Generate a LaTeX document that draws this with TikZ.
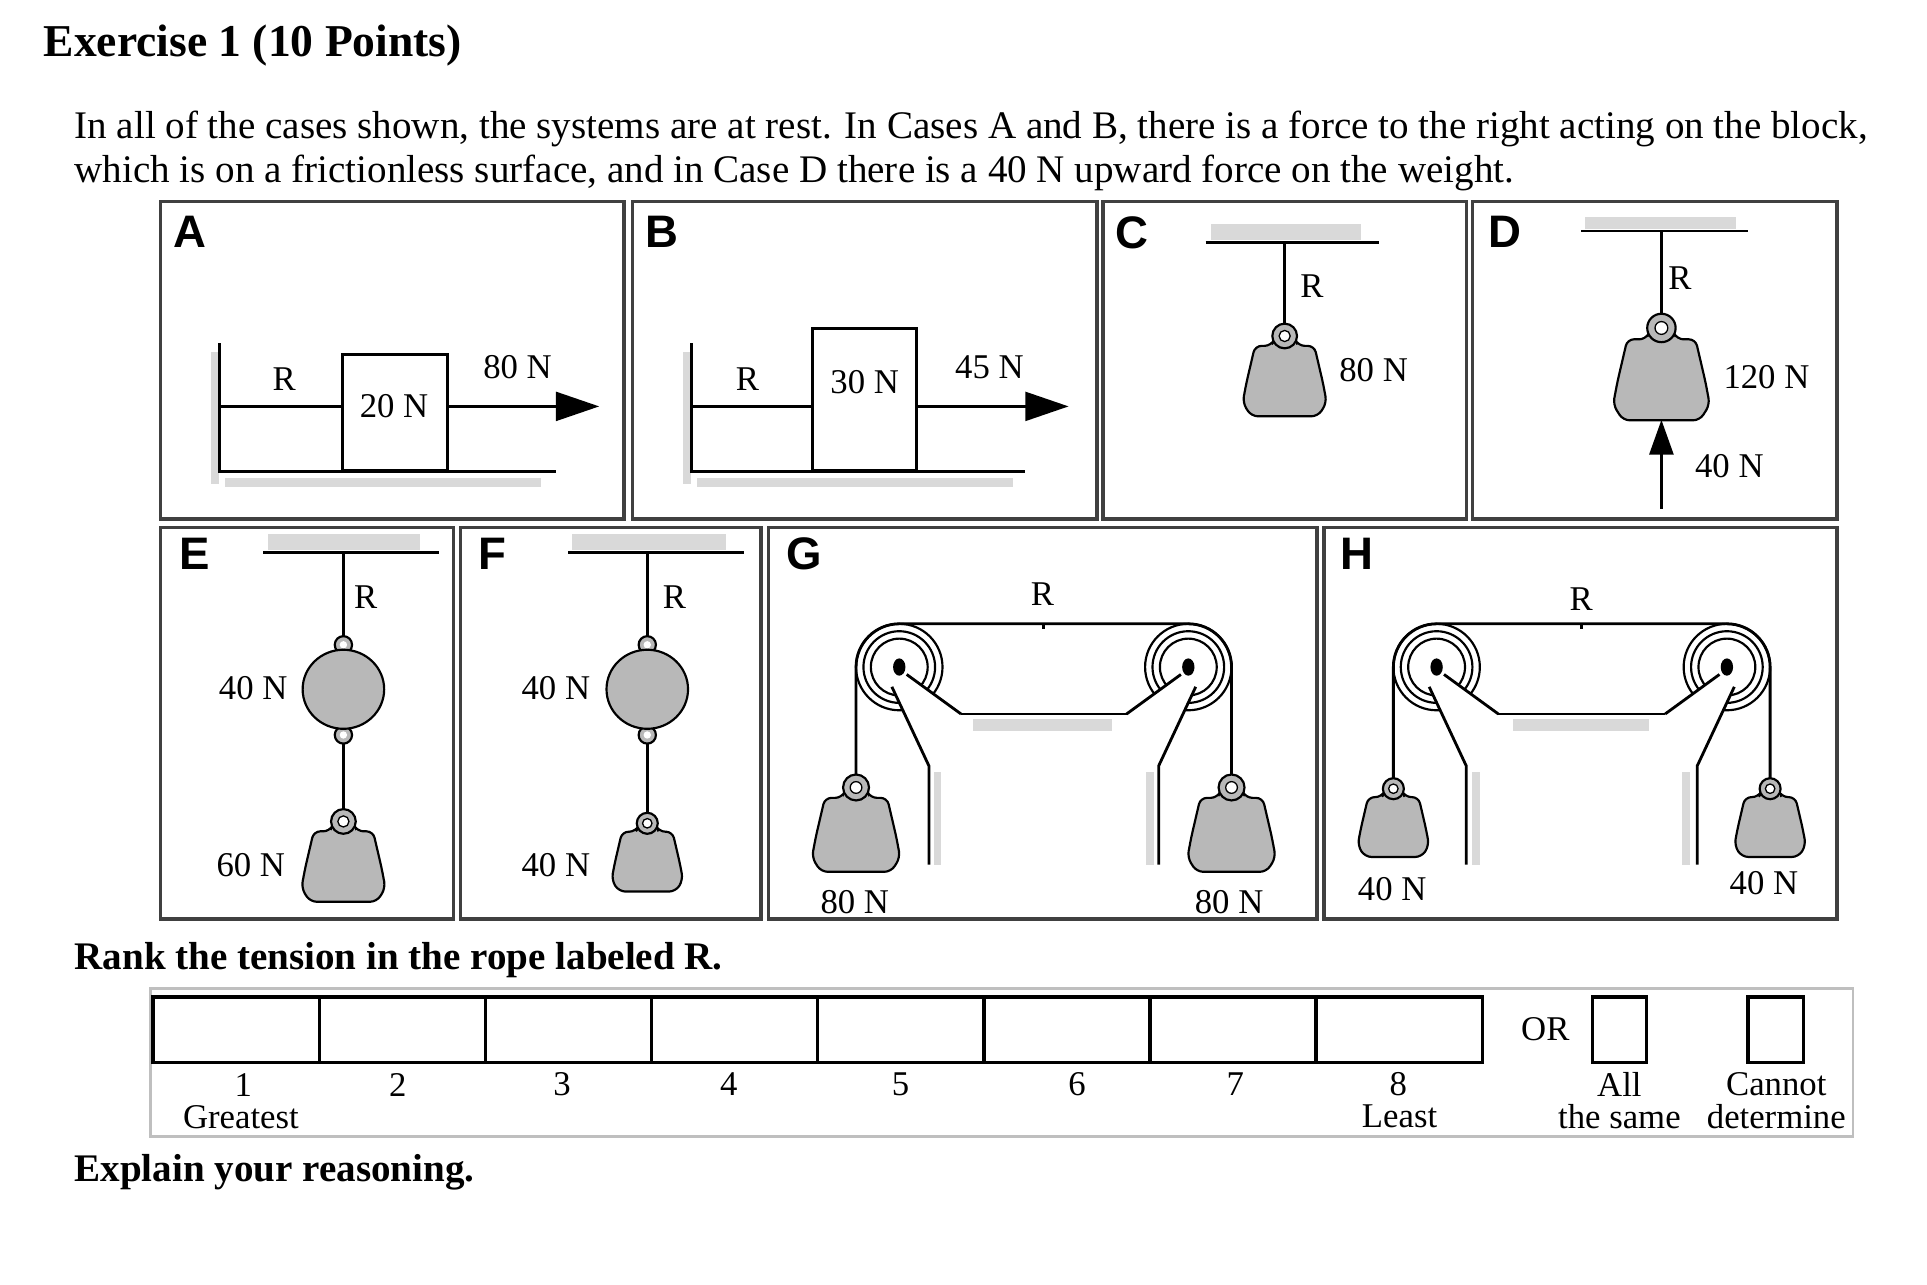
\documentclass[tikz,border=0pt]{standalone}
\usepackage{fontspec}
\setmainfont{Liberation Serif}
\newfontfamily\sansb{Liberation Sans}[BoldFont={* Bold}]
\begin{document}
\begin{tikzpicture}[x=0.02cm,y=-0.02cm,
  panel/.style={draw=black!75,line width=1.6pt},
  lab/.style={font=\fontsize{16}{18}\selectfont,inner sep=0pt},
  let/.style={font=\sansb\bfseries\fontsize{21}{24}\selectfont,inner sep=0pt,anchor=north west},
  txt/.style={font=\fontsize{18}{21}\selectfont,inner sep=0pt,anchor=west},
  rope/.style={line width=1.3pt},
  shade/.style={fill=black!15,draw=none},
  wfill/.style={fill=black!28,draw=black,line width=1pt},
  weight/.pic={
    \path[wfill,rounded corners=3] (-8,12) -- (8,12) -- (11,18) -- (24,18) -- (31,48) -- (34,64) -- (27,75) -- (-27,75) -- (-34,64) -- (-31,48) -- (-24,18) -- (-11,18) -- cycle;
    \path[fill=black!28] (-9,13) rectangle (9,20);
    \path[wfill] (0,10) circle (10);
    \fill[white,draw=black,line width=0.6pt] (0,10) circle (4.5);
  },
  disc/.style={fill=black!28,draw=black,line width=1pt},
]
\useasboundingbox (0,0) rectangle (1560,1039.5);
\fill[white] (0,0) rectangle (1560,1039.5);
% heading
\node[font=\bfseries\fontsize{21}{24}\selectfont,anchor=west,inner sep=0pt] (title) at (35,37) {Exercise 1 (10 Points)};
\node[txt] (p1) at (60,104) {In all of the cases shown, the systems are at rest. In Cases A and B, there is a force to the right acting on the block,};
\node[txt] (p2) at (60,140) {which is on a frictionless surface, and in Case D there is a 40 N upward force on the weight.};
% panels
\draw[panel] (130,163) rectangle (505,420);
\draw[panel] (512,163) rectangle (888,420);
\draw[panel] (893,163) rectangle (1187,420);
\draw[panel] (1192,163) rectangle (1487,420);
\draw[panel] (130,427) rectangle (367,744);
\draw[panel] (373,427) rectangle (616,744);
\draw[panel] (622,427) rectangle (1066,744);
\draw[panel] (1072,427) rectangle (1487,744);
\node[let] (lA) at (140,175) {A};
\node[let] (lB) at (522,175) {B};
\node[let] (lC) at (903,175) {C};
\node[let] (lD) at (1205,175) {D};
\node[let] (lE) at (145,435) {E};
\node[let] (lF) at (387,435) {F};
\node[let] (lG) at (636,435) {G};
\node[let] (lH) at (1085,435) {H};
% A
\fill[shade] (171,285) rectangle (177,392);
\fill[shade] (182,387) rectangle (438,394);
\draw[rope] (178,278) -- (178,382) -- (450,382);
\draw[line width=1.3pt,fill=white] (277,287) rectangle (362,381);
\draw[rope] (178,329) -- (277,329);
\draw[rope] (362,329) -- (452,329);
\fill (450,317) -- (485,329) -- (450,341) -- cycle;
\node[lab] (RA) at (230,307) {R};
\node[lab] (mA) at (319,329) {20 N};
\node[lab] (fA) at (419,297) {80 N};
% B
\fill[shade] (553,285) rectangle (559,392);
\fill[shade] (564,387) rectangle (820,394);
\draw[rope] (560,278) -- (560,382) -- (830,382);
\draw[line width=1.3pt,fill=white] (658,266) rectangle (742,381);
\draw[rope] (560,329) -- (658,329);
\draw[rope] (742,329) -- (832,329);
\fill (830,317) -- (865,329) -- (830,341) -- cycle;
\node[lab] (RB) at (605,307) {R};
\node[lab] (mB) at (700,309) {30 N};
\node[lab] (fB) at (801,297) {45 N};
% C
\fill[shade] (980,181) rectangle (1102,194);
\draw[rope] (976,196) -- (1116,196);
\draw[rope] (1040,196) -- (1040,262);
\pic at (1040,262) {weight};
\node[lab] (RC) at (1062,232) {R};
\node[lab] (wC) at (1112,300) {80 N};
% D
\fill[shade] (1283,176) rectangle (1405,185);
\draw[rope] (1280,187) -- (1415,187);
\draw[rope] (1345,187) -- (1345,262);
\pic[scale=1.15] at (1345,254) {weight};
\draw[rope] (1345,412) -- (1345,365);
\fill (1335,368) -- (1345,340) -- (1355,368) -- cycle;
\node[lab] (RD) at (1360,225) {R};
\node[lab] (wD) at (1430,305) {120 N};
\node[lab] (fD) at (1400,377) {40 N};
% E
\fill[shade] (217,432) rectangle (340,445);
\draw[rope] (213,447) -- (355,447);
\draw[rope] (278,447) -- (278,665);
\draw[disc] (278,522) circle (7); \fill[white] (278,522) circle (3);
\draw[disc] (278,595) circle (7); \fill[white] (278,595) circle (3);
\draw[disc] (278,558) ellipse (33 and 32);
\pic at (278,655) {weight};
\node[lab] (RE) at (296,483) {R};
\node[lab] (tE) at (205,557) {40 N};
\node[lab] (bE) at (203,700) {60 N};
% F
\fill[shade] (463,432) rectangle (588,445);
\draw[rope] (460,447) -- (602,447);
\draw[rope] (524,447) -- (524,665);
\draw[disc] (524,522) circle (7); \fill[white] (524,522) circle (3);
\draw[disc] (524,595) circle (7); \fill[white] (524,595) circle (3);
\draw[disc] (524,558) ellipse (33 and 32);
\pic[scale=0.85] at (524,658) {weight};
\node[lab] (RF) at (546,483) {R};
\node[lab] (tF) at (450,557) {40 N};
\node[lab] (bF) at (450,700) {40 N};
% G
\foreach \cx/\s in {728/1,962/-1}{
  \draw[line width=1pt,fill=white] (\cx,540) circle (35);
  \draw[line width=1pt] (\cx,540) circle (29);
  \draw[line width=1pt] (\cx,540) circle (23);
  \fill[white] (\cx+\s*6,546) -- (\cx+\s*50,578) -- (\cx+\s*24,620) -- (\cx-\s*6,556) -- cycle;
  \draw[rope] (\cx+\s*6,546) -- (\cx+\s*50,578);
  \draw[rope] (\cx-\s*6,556) -- (\cx+\s*24,620) -- (\cx+\s*24,700);
  \fill (\cx,540) ellipse (5 and 7);
}
\draw[rope] (778,578) -- (912,578);
\fill[shade] (788,582) rectangle (900,592);
\fill[shade] (756,625) rectangle (762,700);
\fill[shade] (928,625) rectangle (934,700);
\draw[rope] (693,640) -- (693,540) arc (180:270:35) -- (962,505) arc (270:360:35) -- (997,640);
\draw[rope] (845,505) -- (845,509);
\pic[scale=1.05] at (693,627) {weight};
\pic[scale=1.05] at (997,627) {weight};
\node[lab] (RG) at (844,481) {R};
\node[lab] (wG1) at (692,730) {80 N};
\node[lab] (wG2) at (995,730) {80 N};
% H
\foreach \cx/\s in {1163/1,1398/-1}{
  \draw[line width=1pt,fill=white] (\cx,540) circle (35);
  \draw[line width=1pt] (\cx,540) circle (29);
  \draw[line width=1pt] (\cx,540) circle (23);
  \fill[white] (\cx+\s*6,546) -- (\cx+\s*50,578) -- (\cx+\s*24,620) -- (\cx-\s*6,556) -- cycle;
  \draw[rope] (\cx+\s*6,546) -- (\cx+\s*50,578);
  \draw[rope] (\cx-\s*6,556) -- (\cx+\s*24,620) -- (\cx+\s*24,700);
  \fill (\cx,540) ellipse (5 and 7);
}
\draw[rope] (1213,578) -- (1348,578);
\fill[shade] (1225,582) rectangle (1335,592);
\fill[shade] (1192,625) rectangle (1198,700);
\fill[shade] (1362,625) rectangle (1368,700);
\draw[rope] (1128,640) -- (1128,540) arc (180:270:35) -- (1398,505) arc (270:360:35) -- (1433,635);
\draw[rope] (1280,505) -- (1280,509);
\pic[scale=0.85] at (1128,630) {weight};
\pic[scale=0.85] at (1433,630) {weight};
\node[lab] (RH) at (1280,485) {R};
\node[lab] (wH1) at (1127,720) {40 N};
\node[lab] (wH2) at (1428,715) {40 N};
% ranking
\node[font=\bfseries\fontsize{18}{21}\selectfont,anchor=west,inner sep=0pt] (rank) at (60,777) {Rank the tension in the rope labeled R.};
\draw[black!25,line width=1.2pt] (122,800) rectangle (1500,920);
\foreach \i in {0,...,7}{
  \draw[line width=1.6pt] (124+\i*134.5,807) rectangle (124+\i*134.5+134.5,860);
}
\draw[line width=1.6pt] (1289,807) rectangle (1333,860);
\draw[line width=1.6pt] (1415,807) rectangle (1460,860);
\foreach \n/\x in {1/197,2/322,3/455,4/590,5/729,6/872,7/1000,8/1132}{
  \node[lab] (n\n) at (\x,878) {\n};
}
\node[lab] (gr) at (195,904) {Greatest};
\node[lab] (le) at (1133,904) {Least};
\node[lab] (or) at (1251,833) {OR};
\node[lab] (al) at (1311,878) {All};
\node[lab] (sm) at (1311,904) {the same};
\node[lab] (cn) at (1438,878) {Cannot};
\node[lab] (dt) at (1438,904) {determine};
\node[font=\bfseries\fontsize{18}{21}\selectfont,anchor=west,inner sep=0pt] (expl) at (60,949) {Explain your reasoning.};
\end{tikzpicture}
\end{document}
